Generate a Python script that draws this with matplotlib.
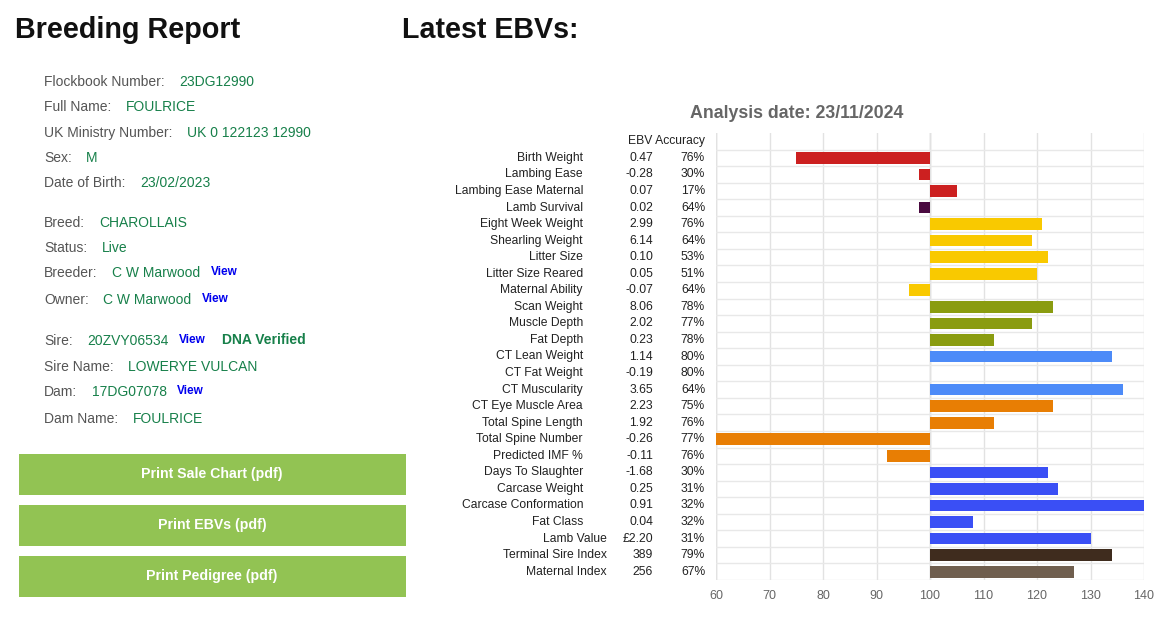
#!/usr/bin/env python3

import matplotlib
matplotlib.use('Agg')
import matplotlib.pyplot as plt
import matplotlib.patches as patches
from matplotlib.transforms import blended_transform_factory

plt.rcParams['font.family'] = ['Liberation Sans', 'DejaVu Sans']

# EBV traits, values and accuracy
traits = ['Birth Weight', 'Lambing Ease', 'Lambing Ease Maternal', 'Lamb Survival',
          'Eight Week Weight', 'Shearling Weight', 'Litter Size', 'Litter Size Reared',
          'Maternal Ability', 'Scan Weight', 'Muscle Depth', 'Fat Depth',
          'CT Lean Weight', 'CT Fat Weight', 'CT Muscularity', 'CT Eye Muscle Area',
          'Total Spine Length', 'Total Spine Number', 'Predicted IMF %',
          'Days To Slaughter', 'Carcase Weight', 'Carcase Conformation', 'Fat Class',
          'Lamb Value', 'Terminal Sire Index', 'Maternal Index']
ebv = ['0.47', '-0.28', '0.07', '0.02', '2.99', '6.14', '0.10', '0.05', '-0.07',
       '8.06', '2.02', '0.23', '1.14', '-0.19', '3.65', '2.23', '1.92', '-0.26',
       '-0.11', '-1.68', '0.25', '0.91', '0.04', '£2.20', '389', '256']
accuracy = ['76%', '30%', '17%', '64%', '76%', '64%', '53%', '51%', '64%', '78%',
            '77%', '78%', '80%', '80%', '64%', '75%', '76%', '77%', '76%', '30%',
            '31%', '32%', '32%', '31%', '79%', '67%']
# bar scores, centred on 100
scores = [75, 98, 105, 98, 121, 119, 122, 120, 96, 123, 119, 112, 134, 100, 136,
          123, 112, 60, 92, 122, 124, 140, 108, 130, 134, 127]
groups = ['red', 'red', 'red', 'purple', 'yellow', 'yellow', 'yellow', 'yellow',
          'yellow', 'olive', 'olive', 'olive', 'lblue', 'lblue', 'lblue', 'orange',
          'orange', 'orange', 'orange', 'blue', 'blue', 'blue', 'blue', 'blue',
          'dbrown', 'brown']
group_colors = {'red': '#cc2020', 'purple': '#4a0a40', 'yellow': '#f9c900',
                'olive': '#8a9c10', 'lblue': '#4d8bf8', 'orange': '#e87e04',
                'blue': '#3a4ff5', 'dbrown': '#3f2c1e', 'brown': '#6f5e4e'}

# sheep details on the left
details = [('Flockbook Number:', '23DG12990'), ('Full Name:', 'FOULRICE'),
           ('UK Ministry Number:', 'UK 0 122123 12990'), ('Sex:', 'M'),
           ('Date of Birth:', '23/02/2023'), ('Breed:', 'CHAROLLAIS'),
           ('Status:', 'Live'), ('Breeder:', 'C W Marwood'), ('Owner:', 'C W Marwood'),
           ('Sire:', '20ZVY06534'), ('Sire Name:', 'LOWERYE VULCAN'),
           ('Dam:', '17DG07078'), ('Dam Name:', 'FOULRICE')]
detail_y = [82, 107, 133, 158, 183, 223, 248, 273, 300, 341, 367, 392, 419]
value_x = [179, 126, 187, 86, 140, 99, 102, 112, 103, 87, 128, 92, 133]
view_links = {'Breeder:': 211, 'Owner:': 202, 'Sire:': 179, 'Dam:': 177}
buttons = ['Print Sale Chart (pdf)', 'Print EBVs (pdf)', 'Print Pedigree (pdf)']

W, H = 1165, 620
fig = plt.figure(figsize=(W / 100, H / 100), dpi=100)

def fx(px):
    return px / W

def fy(py):
    return 1 - py / H

green = '#17804a'
fig.text(fx(15), fy(30), 'Breeding Report', fontsize=20.7, fontweight='bold',
         color='#111111', va='center')
fig.text(fx(402), fy(30), 'Latest EBVs:', fontsize=20.6, fontweight='bold',
         color='#111111', va='center')

for (lab, val), y, vx in zip(details, detail_y, value_x):
    fig.text(fx(44), fy(y), lab, fontsize=10, color='#555555', va='center')
    fig.text(fx(vx), fy(y), val, fontsize=10, color=green, va='center')
    if lab in view_links:
        fig.text(fx(view_links[lab]), fy(y - 1), 'View', fontsize=8.5,
                 fontweight='bold', color='#0000ee', va='center')
fig.text(fx(222), fy(340), 'DNA Verified', fontsize=10, fontweight='bold',
         color=green, va='center')

for i, b in enumerate(buttons):
    top = 454 + i * 51
    fig.patches.append(patches.Rectangle((fx(19), fy(top + 41)), fx(387), 41 / H,
                                         transform=fig.transFigure, facecolor='#92c353',
                                         edgecolor='none'))
    fig.text(fx(212), fy(top + 20), b, fontsize=10.2, fontweight='bold',
             color='white', ha='center', va='center')

# chart
ax_left, ax_right, ax_top, ax_bot = 716, 1144, 133, 580
ax = fig.add_axes([fx(ax_left), fy(ax_bot), fx(ax_right - ax_left),
                   (ax_bot - ax_top) / H])
ypos = list(range(1, len(traits) + 1))
colors = [group_colors[g] for g in groups]
ax.barh(ypos, [s - 100 for s in scores], left=100, height=0.7, color=colors)
ax.set_xlim(60, 140)
ax.set_ylim(len(traits) + 0.5, -0.5)
ax.set_xticks(range(60, 141, 10))
ax.set_yticks([])
ax.set_yticks([k + 0.5 for k in range(0, len(traits) + 1)], minor=True)
ax.grid(True, axis='x', color='#e2e2e2', linewidth=1)
ax.grid(True, axis='y', which='minor', color='#e8e8e8', linewidth=1)
ax.tick_params(axis='y', which='both', length=0)
ax.tick_params(axis='x', length=0, labelsize=9, labelcolor='#666666', pad=7)
ax.set_axisbelow(True)
for s in ax.spines.values():
    s.set_visible(False)
ax.axvline(60, color='#d8d8d8', linewidth=1, zorder=0)
ax.axvline(100, color='#d0d0d0', linewidth=1, zorder=0)

trans = blended_transform_factory(fig.transFigure, ax.transData)
ax.text(fx(705), 0, 'EBV Accuracy', transform=trans, ha='right', va='center',
        fontsize=8.7, color='#222222')
for i, (t, e, a) in enumerate(zip(traits, ebv, accuracy)):
    y = ypos[i]
    name_x = 607 if i >= len(traits) - 3 else 583
    ax.text(fx(name_x), y, t, transform=trans, ha='right', va='center',
            fontsize=8.7, color='#222222')
    ax.text(fx(653), y, e, transform=trans, ha='right', va='center',
            fontsize=8.7, color='#222222')
    ax.text(fx(705), y, a, transform=trans, ha='right', va='center',
            fontsize=8.7, color='#222222')

fig.text(fx(797), fy(113), 'Analysis date: 23/11/2024', fontsize=12.8,
         fontweight='bold', color='#666666', ha='center', va='center')

plt.savefig('out.png', dpi=100)
